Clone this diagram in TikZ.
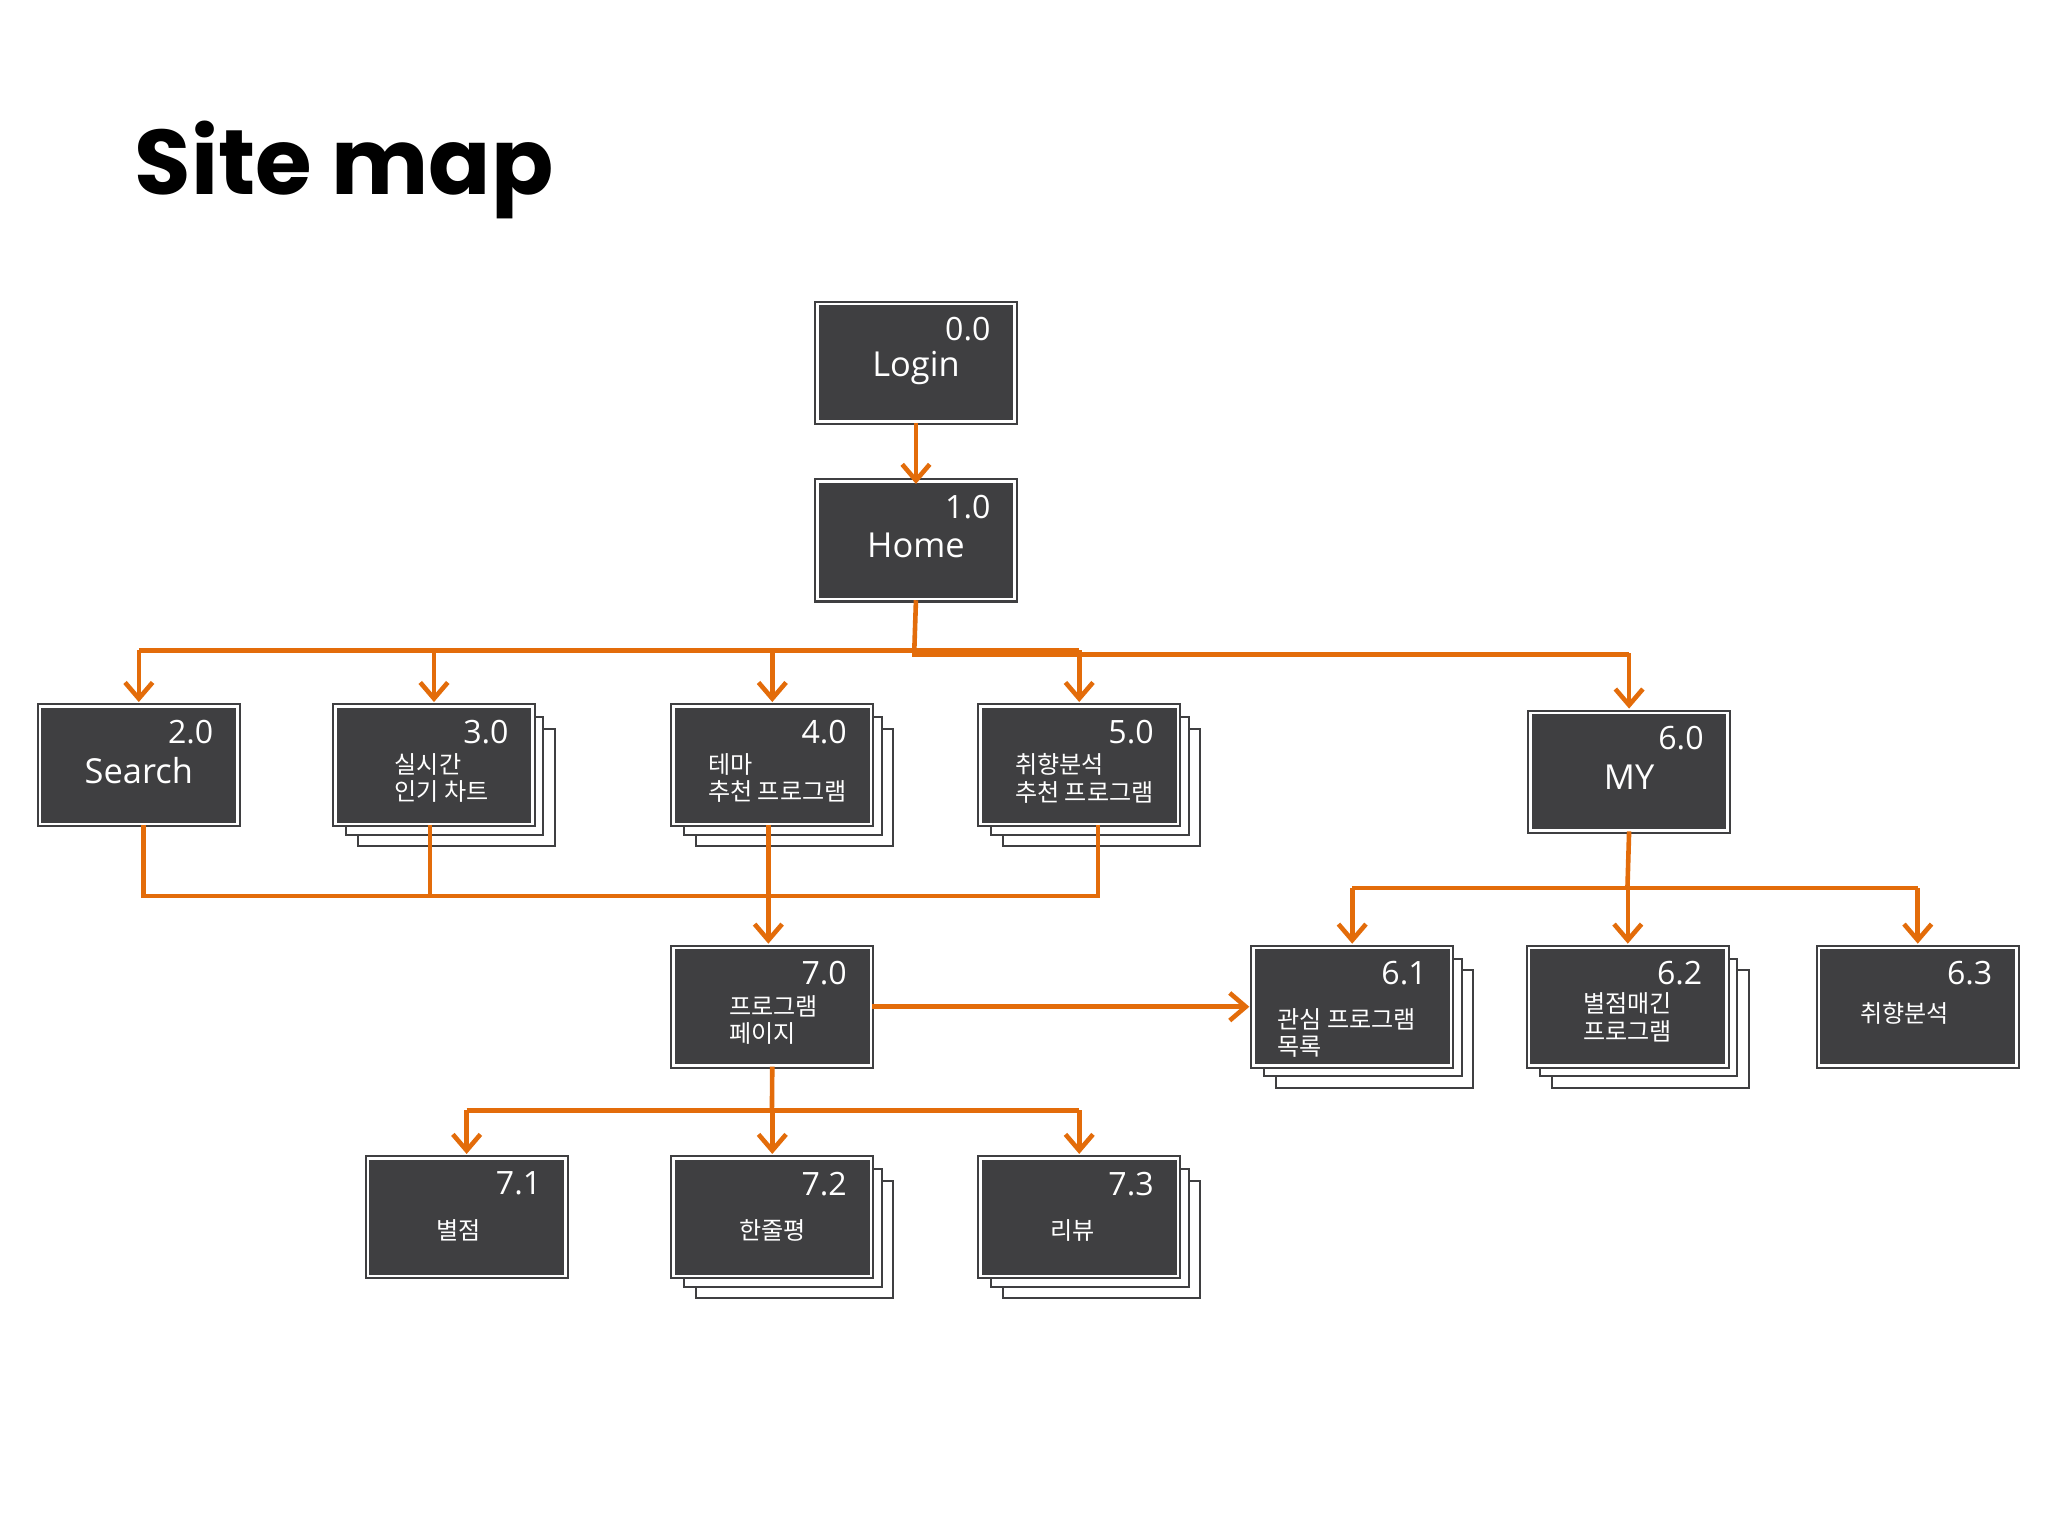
\documentclass[tikz,border=0pt]{standalone}
\usepackage{fontspec}
\setmainfont{Open Sans}
\newfontfamily\kr{Noto Sans CJK KR}
\newfontfamily\ttl{Poppins}
\usetikzlibrary{arrows.meta}
\definecolor{boxc}{HTML}{3F3F41}
\definecolor{orn}{HTML}{E36C0A}
\tikzset{
 bx/.style={anchor=north west,minimum width=3.02cm,minimum height=1.8cm,fill=boxc,draw=boxc,double=white,double distance=1.1pt,line width=0.9pt,inner sep=0},
 sh/.style={fill=white,draw=boxc,line width=0.9pt},
 num/.style={anchor=north east,text=white,font=\fontsize{14}{14}\selectfont},
 lab/.style={text=white,font=\kr\fontsize{10.5}{12}\selectfont,align=left,anchor=west},
 labc/.style={text=white,font=\fontsize{15}{16}\selectfont,align=center},
 ol/.style={draw=orn,line width=2pt},
 arr/.style={ol,-{Straight Barb[length=7pt,width=12pt,line width=2pt]}}
}
\newcommand{\stk}[2]{%
 \draw[sh] (#1+18,#2+18) rectangle ++(151,90);
 \draw[sh] (#1+9,#2+9) rectangle ++(151,90);}
\begin{document}
\begin{tikzpicture}[x=0.02cm,y=-0.02cm]
\useasboundingbox[fill=white] (0,0) rectangle (1568,1176);
\node[anchor=west,font=\ttl\bfseries\fontsize{40}{40}\selectfont] (title) at (97,130) {Site map};
% stacks
\stk{256}{540}\stk{515}{540}\stk{750}{540}\stk{959}{725}\stk{1170}{725}\stk{515}{886}\stk{750}{886}
% boxes
\node[bx] (login) at (625,232) {};
\node[bx] (home) at (625,368) {};
\node[bx] (search) at (30,540) {};
\node[bx] (b3) at (256,540) {};
\node[bx] (b4) at (515,540) {};
\node[bx] (b5) at (750,540) {};
\node[bx] (my) at (1171,545) {};
\node[bx] (b7) at (515,725) {};
\node[bx] (b61) at (959,725) {};
\node[bx] (b62) at (1170,725) {};
\node[bx] (b63) at (1392,725) {};
\node[bx] (b71) at (281,886) {};
\node[bx] (b72) at (515,886) {};
\node[bx] (b73) at (750,886) {};
% numbers
\foreach \n/\t in {login/0.0,home/1.0,search/2.0,b3/3.0,b4/4.0,b5/5.0,my/6.0,b7/7.0,b61/6.1,b62/6.2,b63/6.3,b71/7.1,b72/7.2,b73/7.3}
  \node[num] at ([xshift=-0.26cm,yshift=-0.1cm]\n.north east) {\t};
% labels
\node[labc] at ([yshift=-0.08cm]login.center) {Login};
\node[labc] at ([yshift=-0.08cm]home.center) {Home};
\node[labc] at ([yshift=-0.08cm]search.center) {Search};
\node[labc] at ([yshift=-0.08cm]my.center) {MY};
\node[lab] at ([xshift=0.8cm,yshift=-0.2cm]b3.west) {실시간\\인기 차트};
\node[lab] at ([xshift=0.42cm,yshift=-0.2cm]b4.west) {테마\\추천 프로그램};
\node[lab] at ([xshift=0.42cm,yshift=-0.2cm]b5.west) {취향분석\\추천 프로그램};
\node[lab] at ([xshift=0.74cm,yshift=-0.2cm]b7.west) {프로그램\\페이지};
\node[lab] at ([xshift=0.26cm,yshift=-0.4cm]b61.west) {관심 프로그램\\목록};
\node[lab,anchor=center] at ([yshift=-0.16cm]b62.center) {별점매긴\\프로그램};
\node[lab,anchor=center] at ([xshift=-0.2cm,yshift=-0.1cm]b63.center) {취향분석};
\node[lab,anchor=center] at ([xshift=-0.12cm,yshift=-0.2cm]b71.center) {별점};
\node[lab,anchor=center] at ([yshift=-0.2cm]b72.center) {한줄평};
\node[lab,anchor=center] at ([xshift=-0.1cm,yshift=-0.2cm]b73.center) {리뷰};
% connectors
\draw[arr] (login.south) -- ([yshift=-0.05cm]home.north);
\coordinate (bus1) at (700,498);
\draw[ol] (home.south) -- (bus1);
\draw[ol] (search.north |- bus1) -- (b5.north |- bus1);
\draw[ol] (bus1) -- ++(0,3) -| ([yshift=0.9cm]my.north);
\foreach \n in {search,b3,b4,b5}
  \draw[arr] (\n.north |- bus1) -- ([yshift=0.05cm]\n.north);
\draw[arr] ([yshift=0.9cm]my.north) -- ([yshift=0.05cm]my.north);
\coordinate (bus2) at (588,686);
\draw[ol] ([xshift=0.07cm]search.south) |- (bus2);
\draw[ol] ([xshift=-0.06cm]b3.south) |- (bus2);
\draw[ol] ([xshift=0.29cm]b5.south) |- (bus2);
\draw[arr] ([xshift=-0.06cm]b4.south) -- ([xshift=-0.06cm,yshift=0.05cm]b7.north);
\coordinate (bus3) at (1246,680);
\draw[ol] (my.south) -- (bus3);
\draw[ol] (b61.north |- bus3) -- (b63.north |- bus3);
\foreach \n in {b61,b62,b63}
  \draw[arr] (\n.north |- bus3) -- ([yshift=0.05cm]\n.north);
\draw[arr] (b7.east) -- ([xshift=-0.05cm]b61.west);
\coordinate (bus4) at (591,850);
\draw[ol] (b7.south) -- (bus4);
\draw[ol] (b71.north |- bus4) -- (b73.north |- bus4);
\foreach \n in {b71,b72,b73}
  \draw[arr] (\n.north |- bus4) -- ([yshift=0.05cm]\n.north);
\end{tikzpicture}
\end{document}
